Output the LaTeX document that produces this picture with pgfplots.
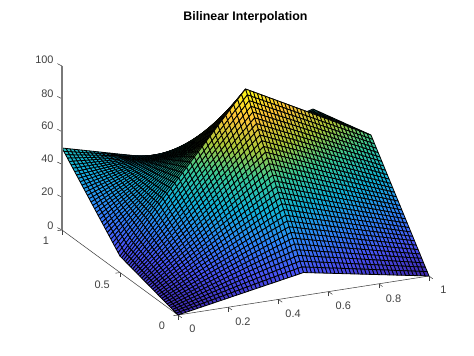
\documentclass[border=0pt]{standalone}
\usepackage{fontspec}
\setmainfont{Liberation Sans}
\usepackage{pgfplots}
\usepgfplotslibrary{patchplots}
\pgfplotsset{compat=1.18}
\definecolor{mgray}{rgb}{0.25,0.25,0.25}
\pgfplotsset{colormap={parula}{
rgb=(0.2422,0.1504,0.6603)
rgb=(0.2810,0.3228,0.9578)
rgb=(0.1786,0.5289,0.9682)
rgb=(0.0689,0.6948,0.8394)
rgb=(0.2161,0.7843,0.5923)
rgb=(0.6720,0.7793,0.2227)
rgb=(0.9970,0.7659,0.2199)
rgb=(0.9769,0.9839,0.0805)}}
\begin{document}
\begin{tikzpicture}[x=0.75pt,y=0.75pt]
\useasboundingbox (-178,-40) rectangle (296,315);
\begin{axis}[
 at={(0,0)},anchor=origin,
 x={(188.25pt,29.25pt)},y={(-87pt,63.75pt)},z={(0pt,1.23pt)},
 xmin=0,xmax=1,ymin=0,ymax=1,zmin=0,zmax=100,
 clip=false,
 axis x line*=bottom,axis y line*=left,axis z line*=left,
 xtick={0,0.2,0.4,0.6,0.8,1},ytick={0,0.5,1},ztick={0,20,40,60,80,100},
 tick align=outside,
 major tick length=3.5pt,
 every tick/.style={mgray,line width=0.4pt},
 ztick style={draw=none},
 axis line style={mgray,line width=0.4pt,-},
 ticklabel style={font=\fontsize{8.2}{9}\selectfont,text=mgray},
 xticklabel style={xshift=4.5pt,yshift=-1.5pt},
 yticklabel style={xshift=-3pt,yshift=-0.7pt},
 /pgf/number format/assume math mode=true,
 colormap name=parula,point meta=z,point meta min=0,point meta max=100,
]
\addplot3[patch,patch type=rectangle,patch refines=5,shader=faceted,faceted color=black,line width=0.6pt,z buffer=sort] coordinates {
(0,0,0) (0.5,0,14) (0.5,0.5,100) (0,0.5,10)
(0.5,0,14) (1,0,0) (1,0.5,60) (0.5,0.5,100)
(0,0.5,10) (0.5,0.5,100) (0.5,1,30) (0,1,50)
(0.5,0.5,100) (1,0.5,60) (1,1,50) (0.5,1,30)
};
\pgfplotsinvokeforeach{0,20,40,60,80,100}{
 \draw[mgray,line width=0.4pt] (axis cs:0,1,#1) -- ++(-3.5pt,1.8pt);
}
\draw[mgray!70,line width=1pt] (axis cs:0,1,0) -- (axis cs:0,1,100);
\end{axis}
\node[font=\fontsize{9.3}{11}\selectfont\bfseries,text=black] at (67.5,298) {Bilinear Interpolation};
\end{tikzpicture}
\end{document}
